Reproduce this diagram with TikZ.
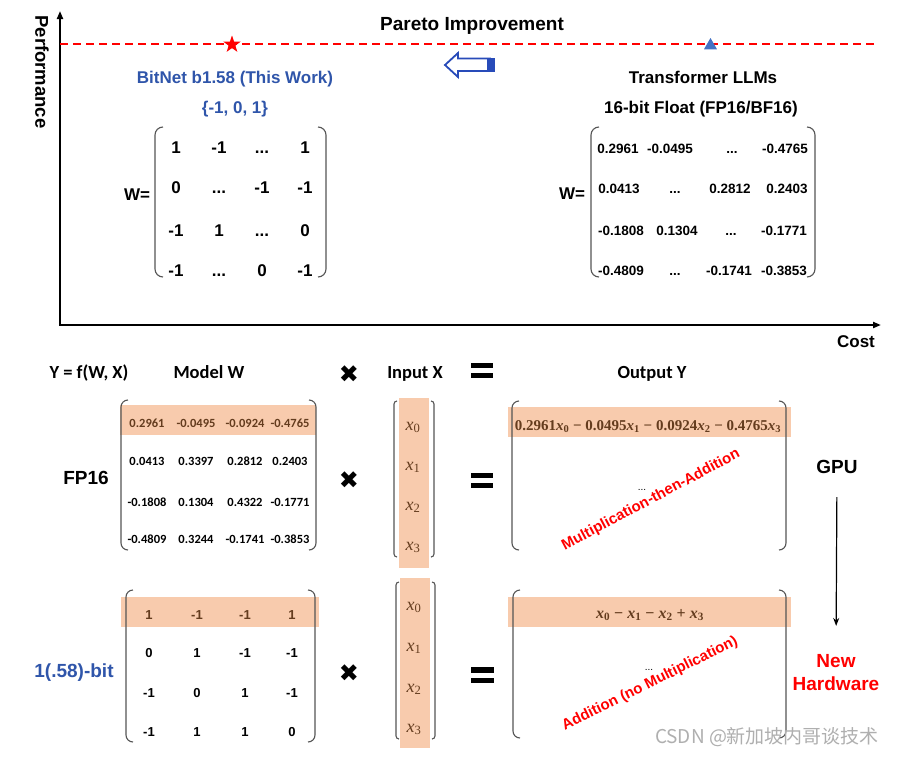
\documentclass[tikz,border=0pt]{standalone}
\usepackage[no-math]{fontspec}
\setmainfont{Liberation Sans}
\newfontfamily\calib{Carlito}
\newfontfamily\symf{DejaVu Sans}
\newfontfamily\cjkf{Noto Sans CJK SC}
\newfontfamily\mserif{Liberation Serif}
\usetikzlibrary{shapes.geometric,arrows.meta}
\definecolor{tblue}{RGB}{47,85,170}
\definecolor{arrblue}{RGB}{40,75,185}
\definecolor{peach}{RGB}{248,203,173}
\definecolor{hlbrown}{RGB}{100,60,30}
\definecolor{pgray}{RGB}{85,85,85}
\definecolor{wmgray}{RGB}{175,175,175}
\definecolor{tri}{RGB}{68,114,196}
\definecolor{pred}{RGB}{255,0,0}
\newcommand{\myfs}[1]{\fontsize{#1}{#1}\selectfont}
\newcommand{\tdots}{...}
\newcommand{\xv}[1]{\textit{x}\textsubscript{#1}}
\newcommand{\mop}[1]{\hspace{0.25em}#1\hspace{0.25em}}
\newcommand{\mybrk}[5]{%
  \draw[paren,rounded corners=#5pt] ({#1+#5},#3) -- (#1,#3) -- (#1,#4) -- ({#1+#5},#4);
  \draw[paren,rounded corners=#5pt] ({#2-#5},#3) -- (#2,#3) -- (#2,#4) -- ({#2-#5},#4);}
\begin{document}
\begin{tikzpicture}[x=1pt,y=-1pt,
 every node/.style={inner sep=0pt, outer sep=0pt},
 ttl/.style={font=\bfseries\myfs{17}, anchor=base},
 btl/.style={text=tblue, font=\bfseries\myfs{17}, anchor=base},
 tle/.style={font=\bfseries\myfs{17}, anchor=base},
 tre/.style={font=\bfseries\myfs{13.5}, anchor=base},
 hdr/.style={font=\calib\bfseries\myfs{18.5}, anchor=base},
 rowlbl/.style={font=\bfseries\myfs{19}, anchor=base},
 fpe/.style={font=\calib\bfseries\myfs{12.5}, anchor=base},
 bte/.style={font=\bfseries\myfs{13}, anchor=base},
 vec/.style={text=hlbrown, font=\mserif\myfs{18}, anchor=base},
 outr/.style={text=hlbrown, font=\mserif\bfseries\myfs{15}, anchor=base},
 note/.style={text=pred, font=\bfseries\myfs{15}},
 tx/.style={font=\symf\myfs{24}},
 paren/.style={draw=pgray, line width=1.1pt},
 hl/.style={fill=peach},
 eqb/.style={fill=black},
]
\useasboundingbox (0,0) rectangle (898,756);
\fill[white] (0,0) rectangle (898,756);

% ---------- top chart ----------
\coordinate (Ytip) at (60,11);
\coordinate (O) at (60,325);
\coordinate (Xtip) at (881,325);
\draw[line width=2pt, line join=miter, {Triangle[length=8pt,width=6pt]}-{Triangle[length=8pt,width=6pt]}] (Ytip) -- (O) -- (Xtip);
\node[rotate=-90, font=\bfseries\myfs{18.5}] (perf) at (42,72) {Performance};
\node[font=\bfseries\myfs{19}, anchor=base] (pareto) at (472,30) {Pareto Improvement};
\node[ttl] (cost) at (856,347) {Cost};

\coordinate (dl) at (60,44);
\coordinate (dr) at (877,44);
\draw[pred, line width=1.6pt, dash pattern=on 8pt off 5pt] (dl) -- (dr);
\node[star, star points=5, star point ratio=2.5, fill=pred, minimum size=18pt] (star) at (232,44.5) {};
\node[regular polygon, regular polygon sides=3, fill=tri, minimum size=15pt] (tri) at (710.5,45.5) {};

\draw[arrblue, line width=1.8pt, fill=white, line join=miter] (445,65) -- (458,53) -- (458,58.5) -- (490,58.5) -- (490,71) -- (458,71) -- (458,77) -- cycle;
\fill[arrblue] (487,57.5) rectangle (494.5,72);

\node[btl] (bitnet) at (235,83) {BitNet b1.58 (This Work)};
\node[btl] (tern) at (235,113) {\{-1, 0, 1\}};
\node[ttl] (tllm) at (703,83) {Transformer LLMs};
\node[ttl] (fp16t) at (701,113) {16-bit Float (FP16/BF16)};
\node[ttl] (wl) at (137,200) {W=};
\node[ttl] (wr) at (572,199) {W=};

\mybrk{155}{326}{127}{277}{8}
\foreach \v [count=\c] in {1,-1,\tdots,1} \node[tle] (a1\c) at ({133+43*\c},153) {\v};
\foreach \v [count=\c] in {0,\tdots,-1,-1} \node[tle] (a2\c) at ({133+43*\c},193) {\v};
\foreach \v [count=\c] in {-1,1,\tdots,0} \node[tle] (a3\c) at ({133+43*\c},236) {\v};
\foreach \v [count=\c] in {-1,\tdots,0,-1} \node[tle] (a4\c) at ({133+43*\c},276) {\v};

\mybrk{591}{815}{127}{277}{8}
\foreach \v/\x [count=\c] in {0.2961/618,-0.0495/670,\tdots/732,-0.4765/785} \node[tre] (b1\c) at (\x,153) {\v};
\foreach \v/\x [count=\c] in {0.0413/619,\tdots/675,0.2812/730,0.2403/787} \node[tre] (b2\c) at (\x,193) {\v};
\foreach \v/\x [count=\c] in {-0.1808/621,0.1304/677,\tdots/731,-0.1771/784} \node[tre] (b3\c) at (\x,235) {\v};
\foreach \v/\x [count=\c] in {-0.4809/621,\tdots/675,-0.1741/729,-0.3853/784} \node[tre] (b4\c) at (\x,275) {\v};

% ---------- bottom header ----------
\node[hdr] (yf) at (89,378) {Y = f(W, X)};
\node[hdr] (mw) at (209,378) {Model W};
\node[tx] (xa) at (349,374) {✖};
\node[hdr] (ix) at (415,378) {Input X};
\fill[eqb] (471,363) rectangle (493,368);
\fill[eqb] (471,373) rectangle (493,378);
\node[hdr] (oy) at (652,378) {Output Y};

% ---------- FP16 row ----------
\fill[hl] (120,405) rectangle (316,435);
\fill[hl] (399,398) rectangle (429,568);
\fill[hl] (508,407) rectangle (791,437);
\mybrk{121}{316}{400}{550}{7}
\mybrk{394}{434}{401}{557}{3}
\mybrk{512}{786}{401}{550}{7}
\node[rowlbl] (fp) at (86,484) {FP16};
\foreach \v/\x [count=\c] in {0.2961/147,-0.0495/196,-0.0924/245,-0.4765/290} \node[fpe, text=hlbrown] (c1\c) at (\x,427) {\v};
\foreach \v/\x [count=\c] in {0.0413/147,0.3397/196,0.2812/245,0.2403/290} \node[fpe] (c2\c) at (\x,465) {\v};
\foreach \v/\x [count=\c] in {-0.1808/147,0.1304/196,0.4322/245,-0.1771/290} \node[fpe] (c3\c) at (\x,506) {\v};
\foreach \v/\x [count=\c] in {-0.4809/147,0.3244/196,-0.1741/245,-0.3853/290} \node[fpe] (c4\c) at (\x,543) {\v};
\node[tx] (xb) at (349,480) {✖};
\foreach \i/\y in {0/430,1/470,2/510,3/550} \node[vec] (v\i) at (413,\y) {\xv{\i}};
\fill[eqb] (471,472.5) rectangle (493,477.5);
\fill[eqb] (471,482.5) rectangle (493,487.5);
\node[outr] (o1) at (648,430) {0.2961\xv{0}\mop{−}0.0495\xv{1}\mop{−}0.0924\xv{2}\mop{−}0.4765\xv{3}};
\node[font=\myfs{10}] (d1) at (642,490) {...};
\node[note, rotate=28] (mta) at (651,500) {Multiplication-then-Addition};
\node[rowlbl] (gpu) at (837,473) {GPU};

% ---------- 1.58-bit row ----------
\fill[hl] (121,597) rectangle (319,627);
\fill[hl] (400,578) rectangle (430,748);
\fill[hl] (508,597) rectangle (791,627);
\mybrk{126}{315}{590}{742}{7}
\mybrk{396}{435}{582}{739}{3}
\mybrk{513}{786}{590}{738}{7}
\node[rowlbl, text=tblue] (bit) at (74,677) {1(.58)-bit};
\foreach \v/\x [count=\c] in {1/149,-1/197,-1/245,1/292} \node[bte, text=hlbrown] (e1\c) at (\x,619) {\v};
\foreach \v/\x [count=\c] in {0/149,1/197,-1/245,-1/292} \node[bte] (e2\c) at (\x,657) {\v};
\foreach \v/\x [count=\c] in {-1/149,0/197,1/245,-1/292} \node[bte] (e3\c) at (\x,697) {\v};
\foreach \v/\x [count=\c] in {-1/149,1/197,1/245,0/292} \node[bte] (e4\c) at (\x,736) {\v};
\node[tx] (xc) at (349,673) {✖};
\foreach \i/\y in {0/610,1/651,2/692,3/732} \node[vec] (u\i) at (414,\y) {\xv{\i}};
\fill[eqb] (471,667) rectangle (494,672.5);
\fill[eqb] (471,677.5) rectangle (494,683);
\node[outr, font=\mserif\bfseries\myfs{16}] (o2) at (650,618) {\xv{0}\mop{−}\xv{1}\mop{−}\xv{2}\mop{+}\xv{3}};
\node[font=\myfs{10}] (d2) at (649,670) {...};
\node[note, rotate=26.5] (anm) at (650,684) {Addition (no Multiplication)};
\node[rowlbl, text=pred] (new) at (836,667) {New};
\node[rowlbl, text=pred] (hw) at (836,690) {Hardware};

\draw[line width=1.2pt, -{Stealth[length=8pt,width=6pt]}, shorten <=24pt, shorten >=28pt] (gpu.south) -- (new.north);

\node[font=\cjkf\myfs{19}, text=wmgray, anchor=base] (wm) at (767,743) {CSDN @新加坡内哥谈技术};
\end{tikzpicture}
\end{document}
